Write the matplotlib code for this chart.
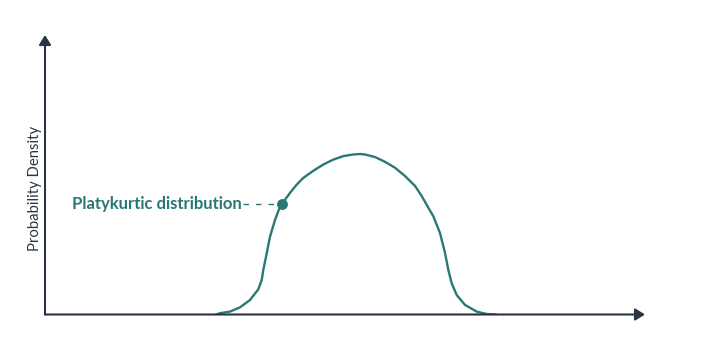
import matplotlib
matplotlib.use("Agg")
import matplotlib.pyplot as plt

# Density curve (arbitrary units)
x_vals = [2.850, 2.917, 3.083, 3.250, 3.417, 3.555, 3.612, 3.638, 3.695, 3.750,
          3.833, 3.917, 4.083, 4.195, 4.305, 4.472, 4.638, 4.805, 4.972, 5.138,
          5.250, 5.333, 5.500, 5.667, 5.833, 6.000, 6.167, 6.278, 6.388, 6.472,
          6.583, 6.667, 6.722, 6.778, 6.862, 7.000, 7.195, 7.362, 7.517]
density = [0.000, 0.008, 0.018, 0.045, 0.091, 0.158, 0.216, 0.279, 0.383, 0.488,
           0.592, 0.676, 0.762, 0.814, 0.856, 0.901, 0.940, 0.971, 0.993, 1.003,
           1.006, 1.003, 0.987, 0.957, 0.920, 0.868, 0.806, 0.743, 0.670, 0.616,
           0.511, 0.386, 0.279, 0.196, 0.122, 0.060, 0.018, 0.003, 0.000]

marker_x = 3.945
marker_y = 0.695
label_text = "Platykurtic distribution"
ylabel_text = "Probability Density"

TEAL = "#2a7876"
NAVY = "#2b3447"

fig = plt.figure(figsize=(7.1, 3.5), dpi=100)
W, H = 710, 350
left, bottom_px, right, top_px = 45, 314.5, 645, 35
ax = fig.add_axes([left / W, 1 - bottom_px / H, (right - left) / W, (bottom_px - top_px) / H])
ax.set_xlim(0, 10)
ax.set_ylim(0, 1.752)
ax.axis("off")

ax.plot(x_vals, density, color=TEAL, lw=1.7, solid_capstyle="round",
        solid_joinstyle="round", zorder=3)
ax.plot([marker_x], [marker_y], "o", color=TEAL, ms=6.8, zorder=4)

# dashed leader
ax.plot([3.30, marker_x], [marker_y, marker_y], color=TEAL, lw=1.0,
        linestyle=(0, (4, 5)), zorder=2)
ax.text(3.28, marker_y, label_text, ha="right", va="center", color=TEAL,
        fontsize=12, fontweight="bold", family="Lato")

# axes arrows
arrow_kw = dict(arrowstyle="-|>,head_length=0.58,head_width=0.36", color=NAVY,
                lw=1.5, shrinkA=0, shrinkB=0, mutation_scale=10)
ax.annotate("", xy=(0, 1), xytext=(0, 0), xycoords="axes fraction",
            textcoords="axes fraction", arrowprops=arrow_kw)
ax.annotate("", xy=(1, 0), xytext=(0, 0), xycoords="axes fraction",
            textcoords="axes fraction", arrowprops=arrow_kw)

ax.text(-0.0167, 0.451, ylabel_text, rotation=90, ha="center", va="center",
        color=NAVY, fontsize=10.7, family="Lato", transform=ax.transAxes)

fig.savefig("out.png", dpi=100)
